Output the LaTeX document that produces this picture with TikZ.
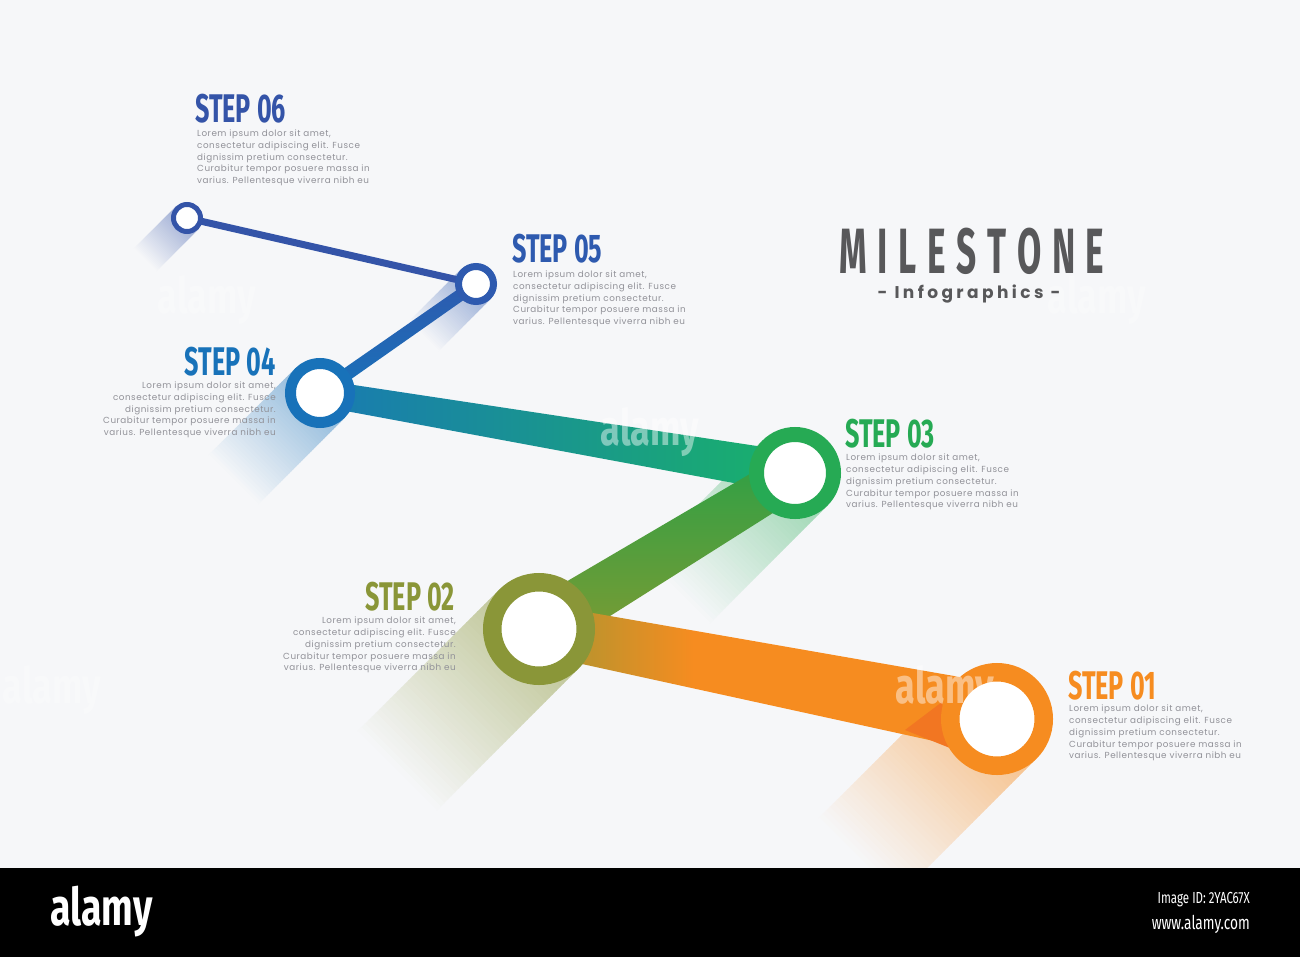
\documentclass[tikz,border=0pt]{standalone}
\usepackage{fontspec}
\usetikzlibrary{calc}
\newfontfamily\headfont[FakeStretch=0.63]{Fira Sans}
\newfontfamily\titlefont[FakeStretch=0.55]{Fira Sans}
\newfontfamily\logofont[FakeStretch=0.72]{Fira Sans}
\newfontfamily\bodyfont[LetterSpace=6]{Poppins}
\newfontfamily\subfont[LetterSpace=20]{Poppins}
\definecolor{bg}{RGB}{246,247,249}
\definecolor{cA}{RGB}{52,84,168}
\definecolor{cB}{RGB}{46,90,175}
\definecolor{cC}{RGB}{24,114,185}
\definecolor{cD}{RGB}{38,170,84}
\definecolor{cE}{RGB}{138,150,56}
\definecolor{cF}{RGB}{246,140,32}
\definecolor{cFdark}{RGB}{242,118,34}
\definecolor{olv}{RGB}{165,150,50}
\definecolor{bodygray}{RGB}{145,145,152}
\definecolor{titlegray}{RGB}{88,88,90}
\pgfdeclarehorizontalshading{bandone}{100bp}{color(0bp)=(olv); color(25bp)=(olv); color(42bp)=(cF); color(100bp)=(cF)}
\pgfdeclarelayer{back}
\pgfdeclarelayer{mid}
\pgfsetlayers{back,mid,main}
% long shadow: centre, radius, length, colour
\newcommand\longshadow[4]{%
  \begin{scope}[shift={(#1)}, rotate=-135]
    \foreach \i in {0,...,39} {
      \pgfmathsetmacro\pc{100*(1-\i/39)}
      \fill[#4!\pc!bg] ({\i*#3/40},-#2) rectangle ({(\i+1)*#3/40+1},#2);
    }
  \end{scope}}
\newcommand\band[5]{%
  \shade[#5] ($(#1)!#3!90:(#2)$) -- ($(#2)!#4!-90:(#1)$) --
   ($(#2)!#4!90:(#1)$) -- ($(#1)!#3!-90:(#2)$) -- cycle;}
\begin{document}
\begin{tikzpicture}[x=1pt,y=-1pt,
  ring/.style={circle, draw, fill=white, inner sep=0pt, outer sep=0pt},
  head/.style={font=\headfont\bfseries\fontsize{40}{40}\selectfont, inner sep=0pt},
  body/.style={font=\bodyfont\fontsize{8.8}{11.7}\selectfont, text=bodygray, inner sep=0pt},
  wm/.style={font=\logofont\bfseries\fontsize{50}{50}\selectfont, text=white, opacity=0.45, inner sep=0pt}]
\useasboundingbox (0,0) rectangle (1300,957);
\begin{pgfonlayer}{back}
  \fill[bg] (0,0) rectangle (1300,868);
\end{pgfonlayer}
\fill[black] (0,868) rectangle (1300,957);

% milestone circles
\node[ring, draw=cA, line width=5pt, minimum size=27pt] (n6) at (187,218) {};
\node[ring, draw=cB, line width=7pt, minimum size=35pt] (n5) at (476,284) {};
\node[ring, draw=cC, line width=11pt, minimum size=59pt] (n4) at (320,393) {};
\node[ring, draw=cD, line width=15pt, minimum size=77pt] (n3) at (795,473) {};
\node[ring, draw=cE, line width=18.5pt, minimum size=93.5pt] (n2) at (539,629) {};
\node[ring, draw=cF, line width=18.5pt, minimum size=93.5pt] (n1) at (997,719) {};

% long shadows
\begin{pgfonlayer}{back}
  \longshadow{n6.center}{16}{60}{cA!45!bg}
  \longshadow{n5.center}{21}{75}{cB!45!bg}
  \longshadow{n4.center}{35}{125}{cC!45!bg}
  \longshadow{n3.center}{46}{170}{cD!42!bg}
  \longshadow{n2.center}{56}{205}{cE!50!bg}
  \longshadow{n1.center}{56}{200}{cF!50!bg}
\end{pgfonlayer}

% connectors
\begin{pgfonlayer}{mid}
  \draw[cA, line width=7pt] (n6.center) -- (n5.center);
  \band{n5.center}{n4.center}{6pt}{6.5pt}{top color=cB, bottom color=cC}
  \band{n4.center}{n3.center}{13pt}{21pt}{left color={rgb,255:red,25;green,122;blue,178}, middle color={rgb,255:red,15;green,158;blue,140}, right color={rgb,255:red,25;green,178;blue,105}}
  \band{n3.center}{n2.center}{22pt}{27pt}{top color={rgb,255:red,45;green,160;blue,70}, bottom color={rgb,255:red,128;green,155;blue,50}}
  \band{n2.center}{n1.center}{25pt}{35pt}{shading=bandone}
  \fill[cFdark] (905,730) -- (942,702) -- (950,748) -- cycle;
\end{pgfonlayer}

% watermarks
\node[wm] (w1) at (650,432) {alamy};
\node[wm] (w2) at (945,690) {alamy};
\node[wm, opacity=0.25] (w3) at (207,300) {alamy};
\node[wm, opacity=0.25] (w4) at (1097,300) {alamy};
\node[wm, opacity=0.25] (w5) at (52,690) {alamy};

% texts
\node[head, text=cA, anchor=base west] (h6) at (195,123) {STEP 06};
\node[body, anchor=north west, align=left] (b6) at (197,130) {Lorem ipsum dolor sit amet,\\consectetur adipiscing elit. Fusce\\dignissim pretium consectetur.\\Curabitur tempor posuere massa in\\varius. Pellentesque viverra nibh eu};

\node[head, text=cB, anchor=base west] (h5) at (512,263) {STEP 05};
\node[body, anchor=north west, align=left] (b5) at (513,271) {Lorem ipsum dolor sit amet,\\consectetur adipiscing elit. Fusce\\dignissim pretium consectetur.\\Curabitur tempor posuere massa in\\varius. Pellentesque viverra nibh eu};

\node[head, text=cC, anchor=base east] (h4) at (276,375) {STEP 04};
\node[body, anchor=north east, align=right] (b4) at (276,382) {Lorem ipsum dolor sit amet,\\consectetur adipiscing elit. Fusce\\dignissim pretium consectetur.\\Curabitur tempor posuere massa in\\varius. Pellentesque viverra nibh eu};

\node[head, text=cD, anchor=base west] (h3) at (845,447) {STEP 03};
\node[body, anchor=north west, align=left] (b3) at (846,454) {Lorem ipsum dolor sit amet,\\consectetur adipiscing elit. Fusce\\dignissim pretium consectetur.\\Curabitur tempor posuere massa in\\varius. Pellentesque viverra nibh eu};

\node[head, text=cE, anchor=base east] (h2) at (455,610) {STEP 02};
\node[body, anchor=north east, align=right] (b2) at (456,617) {Lorem ipsum dolor sit amet,\\consectetur adipiscing elit. Fusce\\dignissim pretium consectetur.\\Curabitur tempor posuere massa in\\varius. Pellentesque viverra nibh eu};

\node[head, text=cF, anchor=base west] (h1) at (1068,699) {STEP 01};
\node[body, anchor=north west, align=left] (b1) at (1069,705) {Lorem ipsum dolor sit amet,\\consectetur adipiscing elit. Fusce\\dignissim pretium consectetur.\\Curabitur tempor posuere massa in\\varius. Pellentesque viverra nibh eu};

% title
\node[anchor=base, inner sep=0pt, text=titlegray, font=\titlefont\bfseries\fontsize{64}{64}\selectfont] (title) at (972,274)
  {\hbox to 265pt{M\hfill I\hfill L\hfill E\hfill S\hfill T\hfill O\hfill N\hfill E}};
\node[anchor=base, inner sep=0pt, text=titlegray, font=\subfont\bfseries\fontsize{17}{17}\selectfont] (sub) at (969,299) {- Infographics -};

% footer
\node[anchor=base west, inner sep=0pt, text=white, font=\logofont\bfseries\fontsize{52}{52}\selectfont] (logo) at (50,925) {alamy};
\node[anchor=base east, inner sep=0pt, text=white, font=\logofont\fontsize{16}{16}\selectfont] (imgid) at (1250,903) {Image ID: 2YAC67X};
\node[anchor=base east, inner sep=0pt, text=white, font=\logofont\fontsize{19}{19}\selectfont] (www) at (1250,929) {www.alamy.com};
\end{tikzpicture}
\end{document}
